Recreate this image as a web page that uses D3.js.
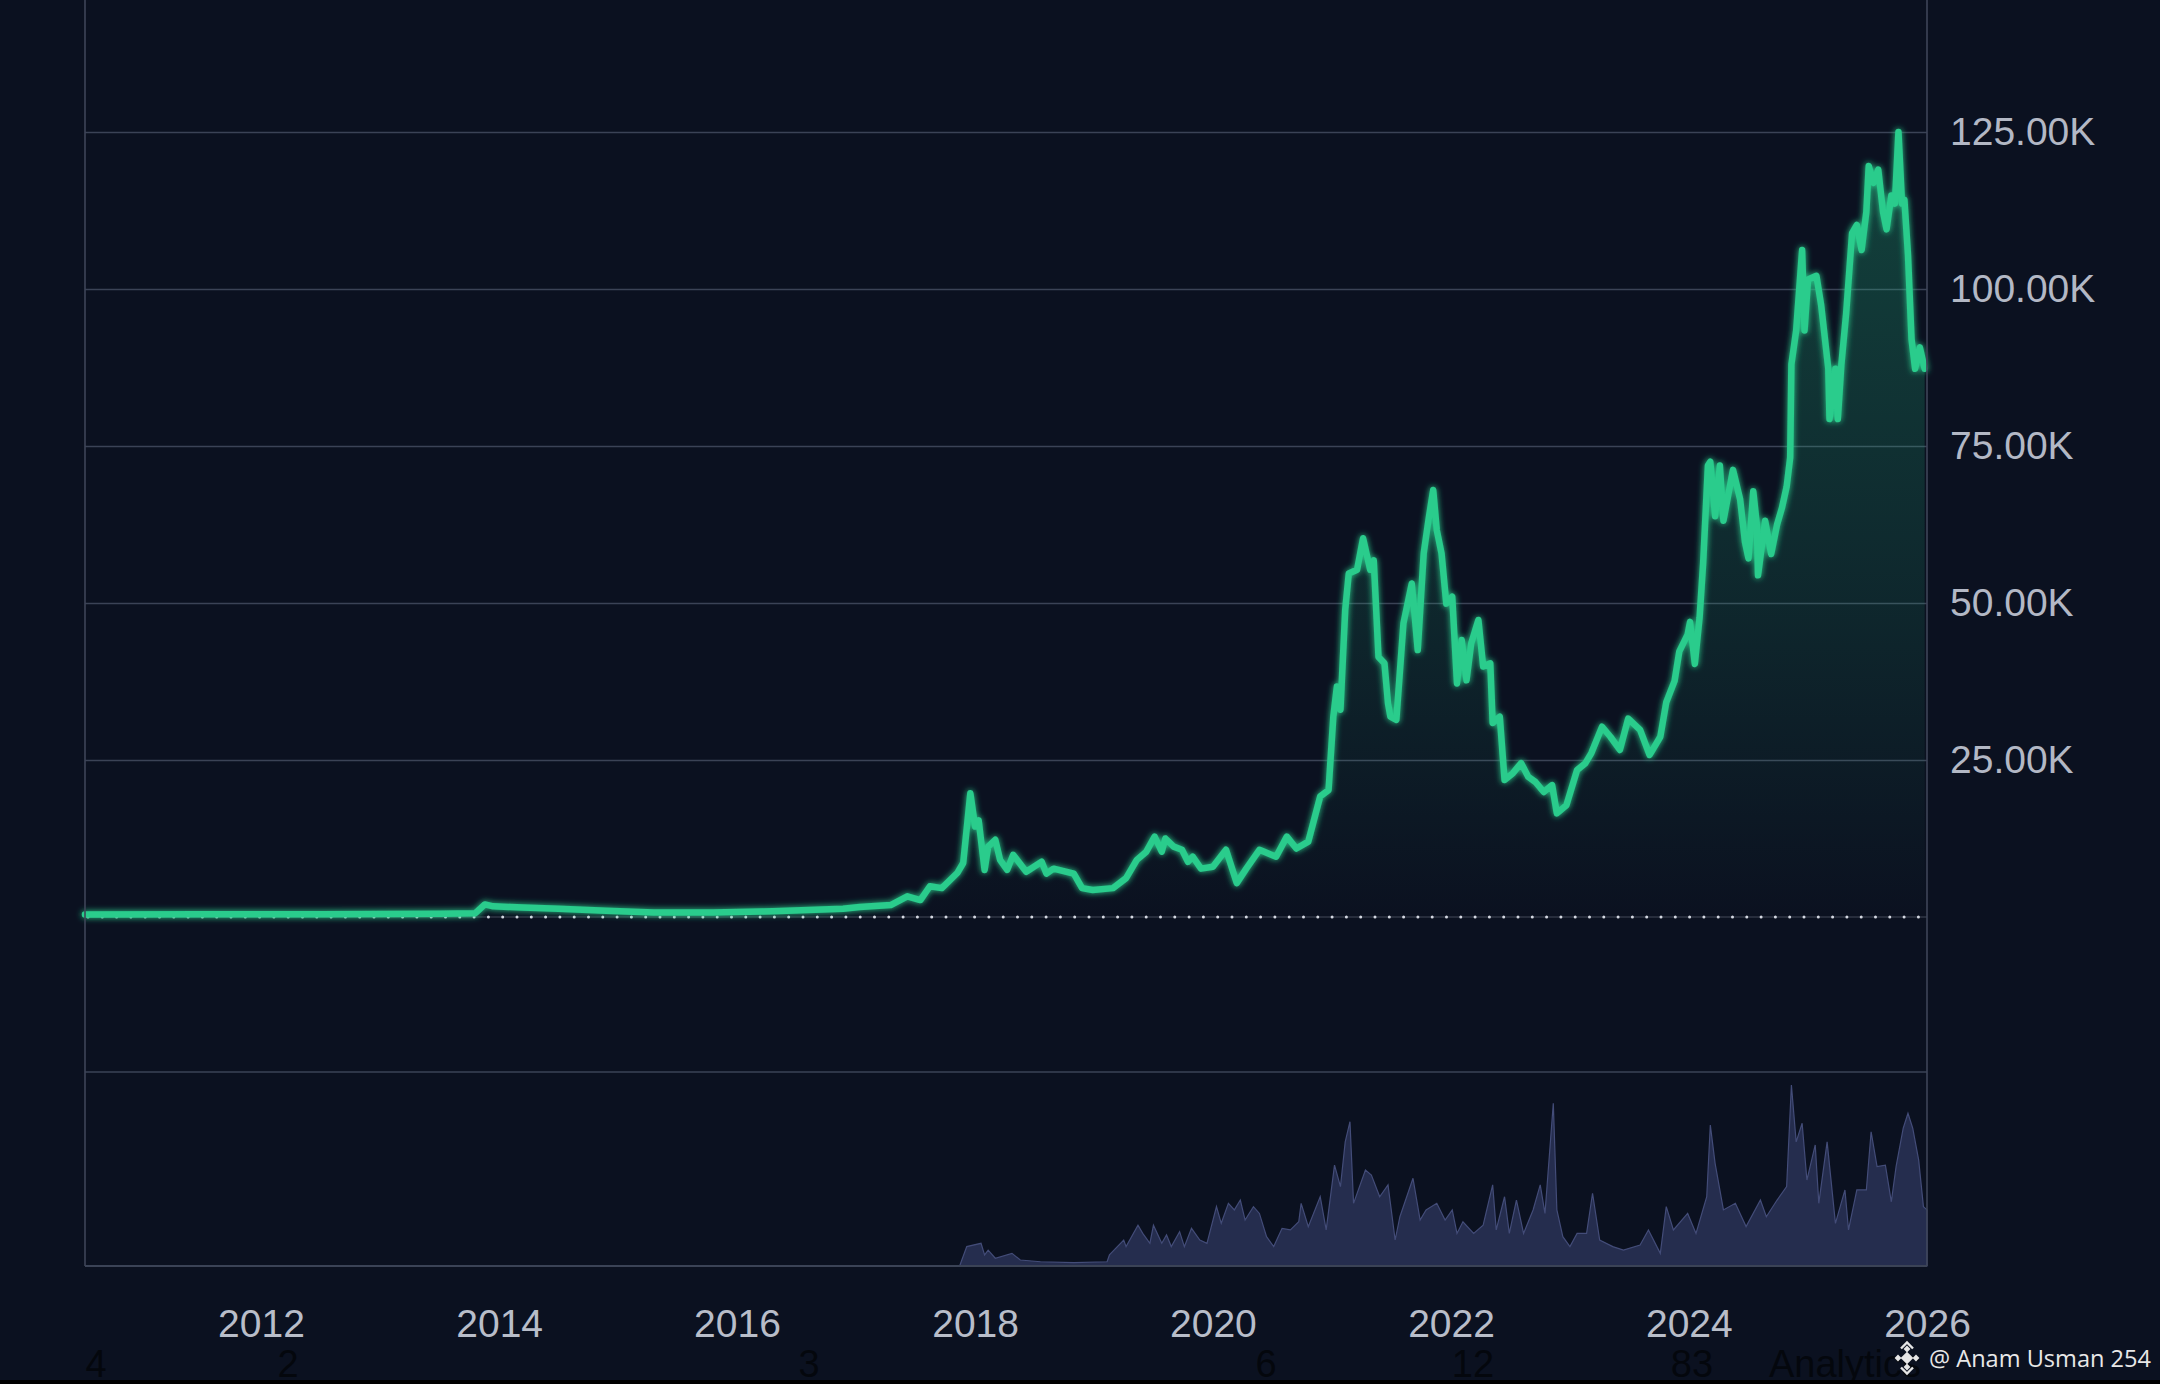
<!DOCTYPE html>
<html lang="en">
<head>
<meta charset="UTF-8">
<title>Bitcoin price history</title>
<script src="https://cdn.jsdelivr.net/npm/d3@7"></script>
<style>
  html, body { margin: 0; padding: 0; background: #0b1120; }
  svg { display: block; }
</style>
</head>
<body>
<div id="chart"></div>
<script>
// price (thousands USD)
const priceYears = [2010.52, 2011.5, 2012.5, 2013.5, 2013.80, 2013.88, 2013.95, 2014.2, 2014.5, 2014.9,
  2015.3, 2015.8, 2016.3, 2016.6, 2016.89, 2017.03, 2017.29, 2017.43, 2017.54, 2017.62,
  2017.72, 2017.85, 2017.90, 2017.96, 2018.00, 2018.03, 2018.08, 2018.11, 2018.17, 2018.21,
  2018.27, 2018.32, 2018.43, 2018.56, 2018.60, 2018.66, 2018.83, 2018.90, 2018.99, 2019.16,
  2019.27, 2019.36, 2019.44, 2019.51, 2019.57, 2019.60, 2019.67, 2019.74, 2019.79, 2019.83,
  2019.90, 2020.00, 2020.11, 2020.20, 2020.28, 2020.39, 2020.53, 2020.62, 2020.70, 2020.80,
  2020.90, 2020.97, 2021.01, 2021.04, 2021.07, 2021.11, 2021.14, 2021.21, 2021.26, 2021.32,
  2021.35, 2021.39, 2021.44, 2021.47, 2021.49, 2021.54, 2021.60, 2021.67, 2021.72, 2021.77,
  2021.81, 2021.85, 2021.88, 2021.92, 2021.96, 2022.01, 2022.05, 2022.09, 2022.13, 2022.17,
  2022.23, 2022.27, 2022.33, 2022.35, 2022.41, 2022.45, 2022.52, 2022.59, 2022.65, 2022.71,
  2022.78, 2022.85, 2022.89, 2022.97, 2023.06, 2023.13, 2023.18, 2023.27, 2023.34, 2023.42,
  2023.49, 2023.59, 2023.67, 2023.76, 2023.81, 2023.88, 2023.92, 2023.99, 2024.01, 2024.05,
  2024.09, 2024.12, 2024.16, 2024.18, 2024.22, 2024.26, 2024.29, 2024.37, 2024.43, 2024.47,
  2024.50, 2024.54, 2024.57, 2024.58, 2024.64, 2024.69, 2024.74, 2024.78, 2024.82, 2024.85,
  2024.86, 2024.90, 2024.95, 2024.97, 2025.00, 2025.07, 2025.11, 2025.17, 2025.18, 2025.23,
  2025.25, 2025.28, 2025.32, 2025.37, 2025.41, 2025.45, 2025.49, 2025.51, 2025.55, 2025.59,
  2025.63, 2025.66, 2025.70, 2025.73, 2025.76, 2025.79, 2025.81, 2025.84, 2025.87, 2025.90,
  2025.94, 2025.98];
const priceK = [0.4, 0.45, 0.45, 0.5, 0.6, 2.0, 1.7, 1.5, 1.3, 1.0,
  0.7, 0.7, 0.9, 1.1, 1.3, 1.6, 1.9, 3.3, 2.7, 4.9,
  4.6, 7.0, 8.6, 19.7, 14.4, 15.4, 7.5, 11.2, 12.3, 9.1,
  7.5, 9.9, 7.2, 8.8, 6.9, 7.7, 6.9, 4.6, 4.3, 4.6,
  6.2, 9.1, 10.4, 12.8, 10.4, 12.5, 11.2, 10.7, 8.8, 9.6,
  7.7, 8.0, 10.7, 5.4, 7.7, 10.7, 9.6, 12.8, 10.9, 12.0,
  19.2, 20.2, 31.9, 36.7, 33.0, 48.9, 54.7, 55.3, 60.3, 55.3,
  56.8, 41.4, 40.4, 34.0, 31.9, 31.4, 46.8, 53.1, 42.5, 57.9,
  63.2, 68.0, 61.6, 57.9, 49.9, 51.0, 37.2, 44.1, 37.7, 43.6,
  47.3, 39.9, 40.4, 30.9, 31.9, 21.8, 22.9, 24.5, 22.3, 21.5,
  19.9, 21.0, 16.5, 17.8, 23.4, 24.5, 26.1, 30.3, 28.7, 26.6,
  31.6, 29.8, 25.8, 28.7, 34.2, 37.6, 42.3, 45.0, 47.0, 40.3,
  47.7, 56.4, 71.9, 72.5, 63.8, 71.9, 63.1, 71.2, 66.5, 59.8,
  57.1, 67.8, 62.5, 54.4, 63.1, 57.8, 62.5, 65.1, 68.5, 73.2,
  88.0, 93.4, 106.2, 93.4, 101.5, 102.1, 97.4, 87.3, 79.3, 87.3,
  79.3, 88.0, 96.1, 108.9, 110.2, 106.2, 112.3, 119.6, 116.9, 119.0,
  112.3, 109.5, 114.9, 113.6, 125.0, 113.6, 114.2, 105.5, 92.0, 87.3,
  90.7, 87.3];

// trading volume (relative units, 0-100)
const volYears = [2017.87, 2017.93, 2018.05, 2018.08, 2018.11, 2018.17, 2018.31, 2018.38, 2018.55, 2018.83,
  2019.11, 2019.13, 2019.25, 2019.27, 2019.37, 2019.41, 2019.47, 2019.50, 2019.57, 2019.61,
  2019.65, 2019.72, 2019.76, 2019.82, 2019.89, 2019.95, 2020.03, 2020.07, 2020.13, 2020.18,
  2020.23, 2020.27, 2020.34, 2020.39, 2020.45, 2020.51, 2020.58, 2020.65, 2020.72, 2020.74,
  2020.80, 2020.90, 2020.95, 2021.02, 2021.07, 2021.11, 2021.15, 2021.18, 2021.28, 2021.33,
  2021.40, 2021.47, 2021.53, 2021.57, 2021.68, 2021.74, 2021.79, 2021.88, 2021.95, 2022.01,
  2022.05, 2022.10, 2022.19, 2022.27, 2022.35, 2022.38, 2022.45, 2022.49, 2022.55, 2022.61,
  2022.69, 2022.75, 2022.79, 2022.86, 2022.89, 2022.94, 2023.00, 2023.06, 2023.14, 2023.19,
  2023.25, 2023.36, 2023.45, 2023.59, 2023.66, 2023.76, 2023.81, 2023.87, 2023.99, 2024.06,
  2024.15, 2024.18, 2024.22, 2024.29, 2024.39, 2024.48, 2024.60, 2024.65, 2024.74, 2024.82,
  2024.86, 2024.90, 2024.95, 2024.99, 2025.06, 2025.09, 2025.16, 2025.23, 2025.31, 2025.34,
  2025.41, 2025.49, 2025.53, 2025.58, 2025.65, 2025.70, 2025.74, 2025.80, 2025.84, 2025.88,
  2025.93, 2025.97, 2026.00];
const volValues = [0, 10, 11.7, 5.7, 8.2, 4, 6.5, 3.1, 2.2, 1.7,
  2.2, 5.7, 13.4, 10, 21, 16.8, 11.7, 21, 11.7, 16,
  10, 17.7, 10, 19.4, 13.4, 11.7, 30.6, 22, 32.3, 28.9,
  34, 23.7, 30.6, 27.1, 15.1, 10, 19.4, 18.6, 22.8, 32.3,
  20.3, 35.7, 18.6, 52, 40.9, 64, 74.4, 32.3, 49.5, 46.9,
  35.7, 41.8, 13.4, 25.4, 45.2, 23.7, 28.9, 32.3, 23.7, 28.9,
  16.8, 22.8, 16.8, 21, 41.8, 18.6, 35.7, 16.8, 34, 16.8,
  28.9, 41.8, 27.1, 83.9, 28.9, 15.1, 10, 16.8, 16.8, 37.5,
  13.4, 10, 8.2, 10.8, 18.6, 6.5, 30.6, 18.6, 27.1, 16.8,
  35.7, 72.7, 52.9, 28.9, 32.3, 20.3, 34, 25.4, 34, 40.9,
  93.3, 64, 73.6, 44.3, 62.4, 32.3, 64, 22, 39.2, 18.6,
  39.2, 39.2, 69.2, 51.2, 52, 33.1, 51.2, 71, 78.7, 71,
  54.6, 30.6, 28.9];

const yTicks = [25, 50, 75, 100, 125];
const xTickYears = [2012, 2014, 2016, 2018, 2020, 2022, 2024, 2026];

const width = 2160, height = 1384;
const left = 85, right = 1927;

function toDate(yr) {
  const y0 = Math.floor(yr);
  const start = Date.UTC(y0, 0, 1), end = Date.UTC(y0 + 1, 0, 1);
  return new Date(start + (yr - y0) * (end - start));
}

const svg = d3.select("#chart").append("svg")
  .attr("width", width)
  .attr("height", height)
  .style("background", "#0b1120");

const x = d3.scaleTime()
  .domain([toDate(2010.52), toDate(2026)])
  .range([left, right]);
const y = d3.scaleLinear().domain([0, 125]).range([917, 132]);
const yv = d3.scaleLinear().domain([0, 100]).range([1266, 1072]);

const defs = svg.append("defs");
const grad = defs.append("linearGradient")
  .attr("id", "areaFill")
  .attr("gradientUnits", "userSpaceOnUse")
  .attr("x1", 0).attr("x2", 0)
  .attr("y1", y(125)).attr("y2", y(0));
grad.append("stop").attr("offset", "0%").attr("stop-color", "#27c98b").attr("stop-opacity", 0.27);
grad.append("stop").attr("offset", "60%").attr("stop-color", "#27c98b").attr("stop-opacity", 0.12);
grad.append("stop").attr("offset", "100%").attr("stop-color", "#27c98b").attr("stop-opacity", 0.0);

const glow = defs.append("filter").attr("id", "glow")
  .attr("x", "-5%").attr("y", "-5%").attr("width", "110%").attr("height", "110%");
glow.append("feGaussianBlur").attr("stdDeviation", 3).attr("result", "b");
const merge = glow.append("feMerge");
merge.append("feMergeNode").attr("in", "b");
merge.append("feMergeNode").attr("in", "SourceGraphic");

// right price axis + gridlines
const yAxis = svg.append("g")
  .attr("transform", `translate(${right},0)`)
  .call(d3.axisRight(y)
    .tickValues(yTicks)
    .tickSize(-(right - left))
    .tickPadding(23)
    .tickFormat(d => d.toFixed(2) + "K"));
yAxis.select(".domain").remove();
yAxis.selectAll("line").attr("stroke", "#3b4356").attr("stroke-width", 1.6);
yAxis.selectAll("text")
  .attr("fill", "#b3b8c5")
  .style("font-family", "'Liberation Sans', Arial, sans-serif")
  .style("font-size", "39px");

// volume panel top line
svg.append("line")
  .attr("x1", left).attr("x2", right)
  .attr("y1", yv(100)).attr("y2", yv(100))
  .attr("stroke", "#3b4356").attr("stroke-width", 1.6);

const data = priceYears.map((yr, i) => ({ date: toDate(yr), v: priceK[i] }));
const vol = volYears.map((yr, i) => ({ date: toDate(yr), v: volValues[i] }));

svg.append("path")
  .datum(data)
  .attr("fill", "url(#areaFill)")
  .attr("d", d3.area().x(d => x(d.date)).y0(y(0)).y1(d => y(d.v)));

// dotted zero line
svg.append("line")
  .attr("x1", left).attr("x2", right)
  .attr("y1", y(0)).attr("y2", y(0))
  .attr("stroke", "#8a90a0").attr("stroke-opacity", 0.45).attr("stroke-width", 1);
svg.append("line")
  .attr("x1", left + 3).attr("x2", right)
  .attr("y1", y(0)).attr("y2", y(0))
  .attr("stroke", "#d5d9e2").attr("stroke-width", 3)
  .attr("stroke-linecap", "round")
  .attr("stroke-dasharray", "0 14.3");

svg.append("path")
  .datum(data)
  .attr("fill", "none")
  .attr("stroke", "#29cc8c")
  .attr("stroke-width", 6.5)
  .attr("stroke-linejoin", "round")
  .attr("stroke-linecap", "round")
  .attr("filter", "url(#glow)")
  .attr("d", d3.line().x(d => x(d.date)).y(d => y(d.v)));

// volume
svg.append("path")
  .datum(vol)
  .attr("fill", "#252d4e")
  .attr("stroke", "#434c78")
  .attr("stroke-width", 1.2)
  .attr("d", d3.area().x(d => x(d.date)).y0(yv(0)).y1(d => yv(d.v)));

// frame
svg.append("line")
  .attr("x1", left).attr("x2", right)
  .attr("y1", yv(0)).attr("y2", yv(0))
  .attr("stroke", "#3b4356").attr("stroke-width", 2);
[left, right].forEach(px => {
  svg.append("line")
    .attr("x1", px).attr("x2", px)
    .attr("y1", 0).attr("y2", yv(0))
    .attr("stroke", "#3e4558").attr("stroke-width", 1.6);
});

// bottom year axis
const xAxis = svg.append("g")
  .attr("transform", `translate(0,${yv(0)})`)
  .call(d3.axisBottom(x)
    .tickValues(xTickYears.map(d => toDate(d)))
    .tickSize(0)
    .tickPadding(43)
    .tickFormat(d3.timeFormat("%Y")));
xAxis.select(".domain").remove();
xAxis.selectAll("text")
  .attr("fill", "#b8bdc9")
  .style("font-family", "'Liberation Sans', Arial, sans-serif")
  .style("font-size", "39px");

// faint leftover labels along the bottom edge
const foot = [["4", 96], ["2", 288], ["3", 809], ["6", 1266], ["12", 1473], ["83", 1692], ["Analytics", 1845]];
svg.append("g").selectAll("text")
  .data(foot)
  .join("text")
  .attr("x", d => d[1]).attr("y", 1377)
  .attr("text-anchor", "middle")
  .attr("fill", "#04070d")
  .style("font-family", "'Liberation Sans', Arial, sans-serif")
  .style("font-size", "38px")
  .text(d => d[0]);

svg.append("rect")
  .attr("x", 0).attr("y", 1380).attr("width", width).attr("height", 4)
  .attr("fill", "#000");

// watermark
const wm = svg.append("g").attr("transform", "translate(1907,1358)");
wm.append("rect").attr("x", -4.5).attr("y", -4.5).attr("width", 9).attr("height", 9)
  .attr("transform", "rotate(45)").attr("fill", "#e6e6e6");
[[-9, 0], [9, 0], [0, -9], [0, 9]].forEach(d => {
  wm.append("rect")
    .attr("x", d[0] - 2.4).attr("y", d[1] - 2.4)
    .attr("width", 4.8).attr("height", 4.8)
    .attr("transform", `rotate(45 ${d[0]} ${d[1]})`)
    .attr("fill", "#e6e6e6");
});
wm.append("path")
  .attr("d", "M-6,-9.5 L0,-15.5 L6,-9.5 M-6,9.5 L0,15.5 L6,9.5")
  .attr("fill", "none").attr("stroke", "#e6e6e6").attr("stroke-width", 2.4);
wm.append("text")
  .attr("x", 22).attr("y", 9)
  .attr("fill", "#e8e8e8")
  .attr("textLength", 222)
  .attr("lengthAdjust", "spacingAndGlyphs")
  .style("font-family", "'Open Sans', sans-serif")
  .style("font-size", "24px")
  .text("@ Anam Usman 254");
</script>
</body>
</html>
